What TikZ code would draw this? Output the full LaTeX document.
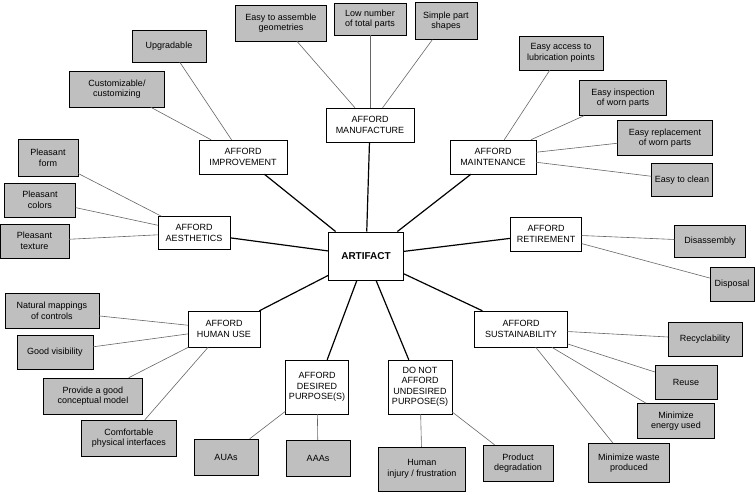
\documentclass[tikz,border=0pt]{standalone}
\usepackage{fontspec}
\setmainfont{Liberation Sans}
\begin{document}
\begin{tikzpicture}[x=1pt,y=-1pt,
  box/.style={draw,fill=white,align=center,font=\fontsize{9}{10.5}\selectfont,inner sep=1pt},
  gbox/.style={draw,fill=gray!50,align=center,font=\fontsize{9}{10.5}\selectfont,inner sep=1pt},
  ln/.style={draw,black!60,line width=0.6pt},
  mln/.style={draw,black,line width=1.2pt}]
\useasboundingbox (0,0) rectangle (756,495);
\node[box,line width=1pt,minimum width=75,minimum height=48,font=\bfseries\fontsize{10}{11}\selectfont] (art) at (366,256) {ARTIFACT};
\node[box,minimum width=88,minimum height=34] (man) at (370,125) {AFFORD\\MANUFACTURE};
\node[box,minimum width=88,minimum height=34] (imp) at (243,157) {AFFORD\\IMPROVEMENT};
\node[box,minimum width=86,minimum height=34] (mai) at (493,157) {AFFORD\\MAINTENANCE};
\node[box,minimum width=72,minimum height=33] (aes) at (194,233) {AFFORD\\AESTHETICS};
\node[box,minimum width=71,minimum height=34] (ret) at (546,234) {AFFORD\\RETIREMENT};
\node[box,minimum width=72,minimum height=36] (hum) at (224,329) {AFFORD\\HUMAN USE};
\node[box,minimum width=63,minimum height=54] (des) at (317,387) {AFFORD\\DESIRED\\PURPOSE(S)};
\node[box,minimum width=64,minimum height=54] (und) at (420,387) {DO NOT\\AFFORD\\UNDESIRED\\PURPOSE(S)};
\node[box,minimum width=93,minimum height=36] (sus) at (521,329) {AFFORD\\SUSTAINABILITY};
\foreach \n in {man,imp,mai,aes,ret,hum,des,und,sus} \draw[mln] (art) -- (\n);
% gray boxes
\node[gbox,minimum width=91,minimum height=36] (g1) at (281,23) {Easy to assemble\\geometries};
\node[gbox,minimum width=72,minimum height=32] (g2) at (370,19) {Low number\\of total parts};
\node[gbox,minimum width=62,minimum height=37] (g3) at (446,21) {Simple part\\shapes};
\node[gbox,minimum width=74,minimum height=32] (g4) at (169,46) {Upgradable};
\node[gbox,minimum width=95,minimum height=36] (g5) at (117,89) {Customizable/\\customizing};
\node[gbox,minimum width=84,minimum height=34] (g6) at (561,53) {Easy access to\\lubrication points};
\node[gbox,minimum width=87,minimum height=35] (g7) at (623,98) {Easy inspection\\of worn parts};
\node[gbox,minimum width=95,minimum height=35] (g8) at (665,138) {Easy replacement\\of worn parts};
\node[gbox,minimum width=61,minimum height=33] (g9) at (682,180) {Easy to clean};
\node[gbox,minimum width=60,minimum height=37] (g10) at (48,158) {Pleasant\\form};
\node[gbox,minimum width=71,minimum height=34] (g11) at (40,200) {Pleasant\\colors};
\node[gbox,minimum width=69,minimum height=34] (g12) at (34.5,241) {Pleasant\\texture};
\node[gbox,minimum width=71,minimum height=32] (g13) at (710,241) {Disassembly};
\node[gbox,minimum width=44,minimum height=34] (g14) at (732,284) {Disposal};
\node[gbox,minimum width=94,minimum height=35] (g15) at (52,311) {Natural mappings\\of controls};
\node[gbox,minimum width=76,minimum height=34] (g16) at (55,352) {Good visibility};
\node[gbox,minimum width=99,minimum height=36] (g17) at (93,396) {Provide a good\\conceptual model};
\node[gbox,minimum width=95,minimum height=36] (g18) at (129,438) {Comfortable\\physical interfaces};
\node[gbox,minimum width=64,minimum height=36] (g19) at (226,457) {AUAs};
\node[gbox,minimum width=64,minimum height=36] (g20) at (318,458) {AAAs};
\node[gbox,minimum width=87,minimum height=44] (g21) at (422,469) {Human\\injury / frustration};
\node[gbox,minimum width=70,minimum height=36] (g22) at (518,463) {Product\\degradation};
\node[gbox,minimum width=74,minimum height=34] (g23) at (705,339) {Recyclability};
\node[gbox,minimum width=62,minimum height=34] (g24) at (686,382) {Reuse};
\node[gbox,minimum width=77,minimum height=35] (g25) at (676,421) {Minimize\\energy used};
\node[gbox,minimum width=81,minimum height=39] (g26) at (629,463) {Minimize waste\\produced};
\foreach \a/\b in {man/g1,man/g2,man/g3,imp/g4,imp/g5,mai/g6,mai/g7,mai/g8,mai/g9,aes/g10,aes/g11,aes/g12,ret/g13,ret/g14,hum/g15,hum/g16,hum/g17,hum/g18,des/g19,des/g20,und/g21,und/g22,sus/g23,sus/g24,sus/g25,sus/g26}
  \draw[ln] (\a) -- (\b);
\end{tikzpicture}
\end{document}
